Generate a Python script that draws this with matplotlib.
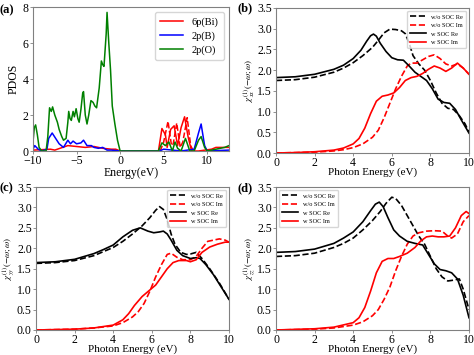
import numpy as np
import matplotlib
matplotlib.use('Agg')
import matplotlib.pyplot as plt

plt.rcParams['font.family'] = ['Liberation Serif', 'DejaVu Serif']
plt.rcParams['mathtext.fontset'] = 'stix'

# ---- (a) PDOS ----
o_e = [-10.0, -9.85, -9.7, -9.5, -9.3, -9.0, -8.5, -8.3, -8.1, -7.9, -7.75, -7.5, -7.2, -7.0,
       -6.7, -6.5, -6.2, -6.0, -5.9, -5.75, -5.6, -5.4, -5.25, -5.05, -4.85, -4.7, -4.5, -4.3,
       -4.2, -4.0, -3.8, -3.6, -3.35, -3.1, -2.9, -2.7, -2.4, -2.15, -2.0, -1.85, -1.6, -1.5,
       -1.3, -1.1, -0.9, -0.6, -0.3, 0.0, 4.4, 4.8, 5.2, 5.6, 6.0, 6.3, 6.6, 7.0, 7.5, 8.0, 8.5,
       9.0, 9.3, 9.7, 10.0, 11.0, 12.0, 12.5]
o_dos = [0.5, 1.3, 1.45, 0.9, 0.2, 0.0, 0.0, 0.8, 2.4, 2.2, 2.45, 2.0, 1.6, 1.2,
         0.8, 0.6, 0.7, 1.6, 2.2, 1.8, 1.7, 2.2, 1.9, 2.35, 1.8, 1.6, 2.3, 3.2,
         3.3, 2.0, 1.5, 2.0, 2.8, 2.7, 2.5, 2.4, 3.5, 5.0, 4.8, 4.7, 6.5, 7.7,
         6.0, 4.5, 2.5, 1.5, 0.6, 0.0, 0.0, 0.45, 0.3, 0.5, 0.0, 0.5, 0.15, 0.0, 0.7, 0.0, 0.0,
         0.6, 0.8, 0.2, 0.0, 0.1, 0.2, 0.3]
b_e = [-10.0, -9.8, -9.4, -9.0, -8.4, -8.2, -7.8, -7.4, -7.0, -6.5, -6.0, -5.7, -5.4, -5.0,
       -4.5, -4.2, -3.8, -3.3, -3.0, -2.5, -2.0, -1.5, -1.0, 0.0, 4.5, 5.0, 6.0, 7.0, 8.5, 9.0,
       9.3, 9.7, 10.0, 12.5]
b_dos = [0.1, 0.3, 0.1, 0.0, 0.1, 0.7, 1.0, 0.7, 0.4, 0.2, 0.6, 0.4, 0.55, 0.4,
         0.45, 0.6, 0.3, 0.3, 0.2, 0.15, 0.2, 0.05, 0.05, 0.0, 0.0, 0.1, 0.05, 0.0, 0.1, 1.0,
         1.5, 0.3, 0.0, 0.05]
bi_e = [-10.0, -8.0, -7.5, -6.0, -5.0, -4.0, -3.0, -2.0, -1.0, -0.5, 0.0, 4.4, 4.8, 5.2,
        5.4, 5.8, 6.2, 6.6, 7.0, 7.4, 7.8, 8.2, 9.0, 10.5, 11.0, 12.5]
bi_dos = [0.05, 0.1, 0.05, 0.3, 0.25, 0.2, 0.25, 0.15, 0.1, 0.1, 0.0, 0.0, 1.25, 0.9,
          0.2, 1.2, 1.4, 0.3, 1.3, 1.9, 0.8, 0.0, 0.0, 0.1, 0.2, 0.2]
bi2_e = [4.6, 5.0, 5.5, 5.9, 6.1, 6.5, 6.9, 7.2, 7.7, 8.1, 8.4]
bi2_dos = [0.0, 0.5, 1.65, 0.3, 0.4, 1.55, 0.2, 0.5, 1.85, 0.3, 0.0]

# ---- (b)-(d) linear susceptibility: (energy, value) per curve ----
xx_re0_e = [0, 1, 2, 3, 3.5, 4, 4.5, 5, 5.3, 5.6, 5.9, 6.2, 6.5, 6.7, 6.9, 7.1, 7.4, 7.7, 8.0, 8.3, 8.6, 8.9, 9.2, 9.5, 9.8, 10]
xx_re0 = [1.75, 1.77, 1.83, 1.95, 2.05, 2.18, 2.35, 2.55, 2.72, 2.9, 2.99, 2.98, 2.95, 2.88, 2.65, 2.35, 2.15, 2.0, 1.75, 1.45, 1.2, 1.08, 1.05, 0.9, 0.7, 0.5]
xx_re1_e = [0, 1, 2, 3, 3.5, 4, 4.4, 4.7, 4.9, 5.05, 5.2, 5.4, 5.7, 6.0, 6.3, 6.6, 6.9, 7.2, 7.5, 7.8, 8.1, 8.4, 8.7, 9.0, 9.3, 9.6, 10]
xx_re1 = [1.82, 1.84, 1.9, 2.02, 2.12, 2.28, 2.48, 2.7, 2.83, 2.87, 2.82, 2.65, 2.45, 2.3, 2.25, 2.24, 2.1, 1.95, 1.85, 1.75, 1.55, 1.3, 1.22, 1.2, 1.05, 0.8, 0.48]
xx_im0_e = [0, 1, 2, 3, 3.5, 4, 4.5, 5, 5.3, 5.6, 5.9, 6.2, 6.5, 6.8, 7.0, 7.3, 7.6, 7.9, 8.2, 8.5, 8.8, 9.1, 9.4, 9.7, 10]
xx_im0 = [0, 0.01, 0.02, 0.05, 0.08, 0.13, 0.22, 0.38, 0.55, 0.85, 1.2, 1.55, 1.85, 2.1, 2.17, 2.17, 2.25, 2.33, 2.37, 2.28, 2.15, 2.1, 2.15, 2.05, 1.9]
xx_im1_e = [0, 1, 2, 3, 3.5, 4, 4.3, 4.6, 4.9, 5.2, 5.5, 5.8, 6.1, 6.4, 6.7, 7.0, 7.3, 7.6, 7.9, 8.2, 8.5, 8.8, 9.1, 9.4, 9.7, 10]
xx_im1 = [0, 0.01, 0.03, 0.07, 0.12, 0.22, 0.35, 0.6, 0.95, 1.25, 1.37, 1.4, 1.45, 1.58, 1.75, 1.82, 1.85, 1.92, 2.02, 2.1, 2.05, 1.97, 2.05, 2.17, 2.05, 1.9]

yy_re0_e = [0, 1, 2, 3, 3.5, 4, 4.5, 5, 5.5, 5.9, 6.2, 6.4, 6.6, 6.8, 7.0, 7.2, 7.5, 7.8, 8.0, 8.3, 8.6, 9.0, 9.5, 10]
yy_re0 = [1.63, 1.65, 1.7, 1.82, 1.92, 2.02, 2.17, 2.35, 2.55, 2.75, 2.93, 3.02, 2.95, 2.7, 2.35, 2.1, 1.9, 1.85, 1.86, 1.9, 1.75, 1.5, 1.15, 0.75]
yy_re1_e = [0, 1, 2, 3, 3.5, 4, 4.5, 5, 5.4, 5.8, 6.1, 6.4, 6.6, 6.8, 7.0, 7.3, 7.6, 8.0, 8.3, 8.5, 8.8, 9.2, 9.6, 10]
yy_re1 = [1.65, 1.67, 1.73, 1.87, 1.97, 2.08, 2.28, 2.44, 2.5, 2.42, 2.38, 2.4, 2.42, 2.35, 2.2, 1.95, 1.82, 1.75, 1.77, 1.75, 1.6, 1.35, 1.05, 0.75]
yy_im0_e = [0, 2, 3, 4, 4.5, 5, 5.3, 5.6, 5.9, 6.2, 6.5, 6.8, 7.0, 7.3, 7.6, 8.0, 8.3, 8.6, 8.9, 9.2, 9.5, 9.8, 10]
yy_im0 = [0, 0.02, 0.05, 0.1, 0.18, 0.32, 0.45, 0.65, 0.95, 1.3, 1.6, 1.85, 1.88, 1.78, 1.72, 1.72, 1.8, 2.0, 2.17, 2.2, 2.23, 2.2, 2.15]
yy_im1_e = [0, 2, 3, 4, 4.5, 4.8, 5.1, 5.5, 5.9, 6.2, 6.5, 6.8, 7.1, 7.4, 7.8, 8.0, 8.3, 8.6, 9.0, 9.4, 9.8, 10]
yy_im1 = [0, 0.02, 0.05, 0.12, 0.25, 0.4, 0.6, 0.82, 0.98, 1.1, 1.3, 1.5, 1.65, 1.7, 1.7, 1.67, 1.72, 1.9, 2.03, 2.1, 2.15, 2.15]

zz_re0_e = [0, 1, 2, 3, 3.5, 4, 4.5, 5, 5.4, 5.7, 6.0, 6.2, 6.5, 6.8, 7.1, 7.4, 7.7, 8.0, 8.3, 8.6, 8.9, 9.2, 9.5, 9.7, 10]
zz_re0 = [1.8, 1.82, 1.88, 2.02, 2.12, 2.25, 2.45, 2.68, 2.9, 3.1, 3.25, 3.22, 3.05, 2.8, 2.55, 2.3, 2.1, 1.8, 1.5, 1.3, 1.2, 1.22, 1.25, 1.0, 0.5]
zz_re1_e = [0, 1, 2, 3, 3.5, 4, 4.5, 4.9, 5.15, 5.35, 5.55, 5.8, 6.1, 6.4, 6.8, 7.2, 7.6, 7.9, 8.2, 8.5, 8.8, 9.1, 9.4, 9.7, 10]
zz_re1 = [1.9, 1.92, 1.98, 2.12, 2.25, 2.4, 2.65, 2.92, 3.08, 3.13, 3.02, 2.75, 2.45, 2.3, 2.17, 2.12, 2.08, 1.85, 1.62, 1.48, 1.45, 1.4, 1.25, 0.85, 0.3]
zz_im0_e = [0, 2, 3, 4, 4.5, 5, 5.3, 5.6, 5.9, 6.2, 6.5, 6.8, 7.1, 7.4, 7.8, 8.2, 8.6, 8.9, 9.1, 9.4, 9.7, 10]
zz_im0 = [0, 0.02, 0.05, 0.12, 0.2, 0.35, 0.5, 0.75, 1.05, 1.45, 1.8, 2.1, 2.3, 2.38, 2.42, 2.43, 2.42, 2.3, 2.25, 2.35, 2.65, 2.8]
zz_im1_e = [0, 2, 3, 4, 4.3, 4.6, 4.9, 5.2, 5.5, 5.8, 6.1, 6.4, 6.8, 7.2, 7.5, 7.8, 8.1, 8.4, 8.7, 9.0, 9.3, 9.6, 9.85, 10]
zz_im1 = [0, 0.03, 0.07, 0.18, 0.3, 0.55, 0.95, 1.4, 1.68, 1.75, 1.75, 1.8, 1.88, 2.02, 2.18, 2.28, 2.3, 2.28, 2.28, 2.3, 2.5, 2.8, 2.9, 2.85]

spectra = {
    'xx': [(xx_re0_e, xx_re0), (xx_im0_e, xx_im0), (xx_re1_e, xx_re1), (xx_im1_e, xx_im1)],
    'yy': [(yy_re0_e, yy_re0), (yy_im0_e, yy_im0), (yy_re1_e, yy_re1), (yy_im1_e, yy_im1)],
    'zz': [(zz_re0_e, zz_re0), (zz_im0_e, zz_im0), (zz_re1_e, zz_re1), (zz_im1_e, zz_im1)],
}
labels = ['w/o SOC Re', 'w/o SOC Im', 'w SOC Re', 'w SOC Im']
colors = ['black', 'red', 'black', 'red']
styles = ['--', '--', '-', '-']

W, H = 474, 355
fig = plt.figure(figsize=(W / 100, H / 100), dpi=100)


def box(l, t, r, b):
    return [l / W, 1 - b / H, (r - l) / W, (b - t) / H]


def style(ax):
    for s in ax.spines.values():
        s.set_color('0.5')
        s.set_linewidth(0.8)
    ax.tick_params(labelsize=8.5, length=2, width=0.6, color='0.5', pad=1)


ax = fig.add_axes(box(33, 7, 229, 151))
ax.plot(bi_e, bi_dos, color='red', lw=1.1, label='6p(Bi)')
ax.plot(bi2_e, bi2_dos, color='red', lw=1.1, ls='--')
ax.plot(b_e, b_dos, color='blue', lw=1.1, label='2p(B)')
ax.plot(o_e, o_dos, color='green', lw=1.1, label='2p(O)')
ax.set_xlim(-10, 12.5)
ax.set_ylim(0, 8)
ax.set_xticks([-10, -5, 0, 5, 10])
ax.set_yticks([0, 2, 4, 6, 8])
ax.set_xlabel('Energy(eV)', fontsize=8.5, labelpad=0)
ax.set_ylabel('PDOS', fontsize=8.5, labelpad=2)
ax.legend(loc='upper right', fontsize=7.5, handlelength=2.2, borderpad=0.5, labelspacing=0.4)
style(ax)
fig.text(0.0, 1 - 10 / H, '(a)', fontsize=9, fontweight='bold', va='center')

panels = [('xx', box(276, 8, 469, 153), '(b)', (237, 8), 'upper right'),
          ('yy', box(36, 187, 229, 330), '(c)', (0, 188), 'upper right'),
          ('zz', box(276, 187, 469, 330), '(d)', (237, 188), 'upper left')]

for comp, rect, tag, (tx, ty), loc in panels:
    ax = fig.add_axes(rect)
    for (e, v), lab, c, ls in zip(spectra[comp], labels, colors, styles):
        ax.plot(e, v, color=c, ls=ls, lw=1.2, label=lab, solid_joinstyle='round')
    ax.set_xlim(0, 10)
    ax.set_ylim(0, 3.5)
    ax.set_xticks([0, 2, 4, 6, 8, 10])
    ax.set_yticks(np.arange(0, 3.6, 0.5))
    ax.yaxis.set_major_formatter(plt.FormatStrFormatter('%.1f'))
    ax.set_xlabel('Photon Energy (eV)', fontsize=8, labelpad=-1)
    ax.set_ylabel(r'$\chi^{(1)}_{%s}(-\omega;\omega)$' % comp, fontsize=6.5, labelpad=0)
    ax.legend(loc=loc, fontsize=4.5, handlelength=2.5, borderpad=0.5, labelspacing=0.5)
    style(ax)
    fig.text(tx / W, 1 - ty / H, tag, fontsize=9, fontweight='bold', va='center')

fig.savefig('out.png', dpi=100)
